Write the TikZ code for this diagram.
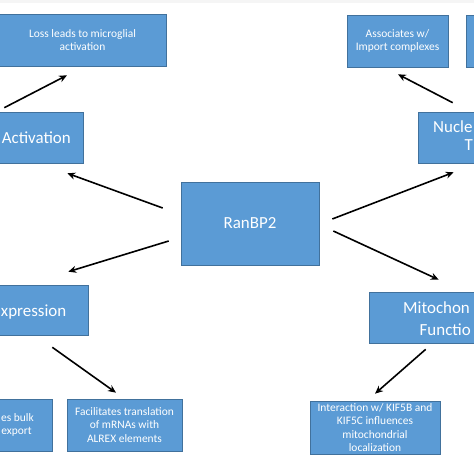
\documentclass[tikz,border=0pt]{standalone}
\usepackage{fontspec}
\setmainfont{Carlito}
\usetikzlibrary{arrows.meta,calc}
\definecolor{boxfill}{HTML}{5B9BD5}
\definecolor{boxline}{HTML}{41719C}
\begin{document}
\begin{tikzpicture}[x=1bp,y=-1bp,
  box/.style={rectangle, fill=boxfill, draw=boxline, line width=0.6bp, inner sep=0pt, text=white, align=center},
  small/.style={font=\fontsize{11.5}{13.6}\selectfont},
  big/.style={font=\fontsize{17}{20}\selectfont},
  lbl/.style={text=white, inner sep=0pt},
  arr/.style={-{Stealth[length=8bp,width=7bp]}, line width=1.6bp, black}]
\useasboundingbox (0,0) rectangle (474,474);
\clip (0,0) rectangle (474,474);
\fill[black!4] (0,0) rectangle (474,3);
% boxes
\node[box, small, minimum width=167bp, minimum height=52bp] (loss) at (82.5,40) {Loss leads to microglial\\activation};
\node[box, minimum width=143bp, minimum height=51bp] (act) at (11.5,137.5) {};
\node[lbl, big, anchor=east] (actT) at (71,137.5) {Activation};
\node[box, big, minimum width=138bp, minimum height=83bp] (ran) at (250,223.5) {RanBP2};
\node[box, small, minimum width=101bp, minimum height=52bp] (assoc) at (397.5,41) {Associates w/\\Import complexes};
\node[box, minimum width=80bp, minimum height=52bp] (tr) at (506,41) {};
\node[box, minimum width=122bp, minimum height=51bp] (nuc) at (479,137.5) {};
\node[lbl, big, anchor=west] (nucA) at (433,127) {Nucle};
\node[lbl, big, anchor=west] (nucB) at (464.5,145) {T};
\node[box, minimum width=148bp, minimum height=50bp] (expr) at (14,310) {};
\node[lbl, big, anchor=east] (exprT) at (66.5,312) {xpression};
\node[box, minimum width=171bp, minimum height=51bp] (mito) at (454.5,317.5) {};
\node[lbl, big, anchor=west] (mitoA) at (403,308) {Mitochon};
\node[lbl, big, anchor=west] (mitoB) at (419.5,330) {Functio};
\node[box, minimum width=112bp, minimum height=52bp] (bulk) at (-4,425) {};
\node[lbl, small, anchor=east] (bulkA) at (34,418) {es bulk};
\node[lbl, small, anchor=east] (bulkB) at (32,432) {export};
\node[box, small, minimum width=115bp, minimum height=52bp] (facil) at (124.5,425) {Facilitates translation\\of mRNAs with\\ALREX elements};
\node[box, small, minimum width=130bp, minimum height=53bp] (inter) at (375,427.5) {Interaction w/ KIF5B and\\KIF5C influences\\mitochondrial\\localization};
% arrows
\draw[arr] ($(act.north east)+(-79,-4)$) -- ($(loss.south)+(-15.5,9)$);
\draw[arr] ($(ran.west)+(-18,-15.5)$) -- ($(act.south east)+(-16,10)$);
\draw[arr] ($(ran.west)+(-12,17.5)$) -- ($(expr.north east)+(-20,-13)$);
\draw[arr] ($(ran.east)+(13,-4.5)$) -- ($(nuc.south west)+(36,9)$);
\draw[arr] ($(ran.east)+(14,7.5)$) -- ($(mito.north west)+(70,-12)$);
\draw[arr] ($(nuc.north west)+(35,-9)$) -- ($(assoc.south)+(0.5,7)$);
\draw[arr] ($(expr.south east)+(-36,12)$) -- ($(facil.north)+(-8.5,-6)$);
\draw[arr] ($(mito.south west)+(57,6)$) -- ($(inter.north)+(0,-7)$);
\end{tikzpicture}
\end{document}
